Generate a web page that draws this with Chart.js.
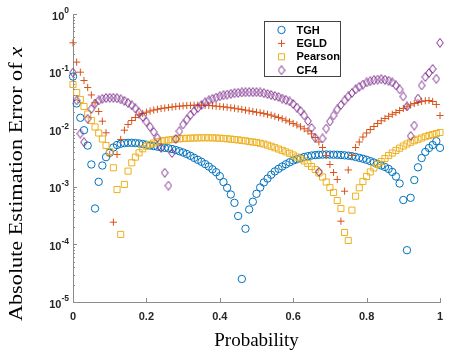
<!DOCTYPE html>
<html><head><meta charset="utf-8">
<script src="https://cdn.jsdelivr.net/npm/chart.js@4.4.1/dist/chart.umd.min.js"></script>
<style>html,body{margin:0;padding:0;background:#fff;}#wrap{width:474px;height:355px;}</style>
</head><body><div id="wrap"><canvas id="c" width="474" height="355"></canvas></div>
<script>
const probs = [0,0.01,0.02,0.03,0.04,0.05,0.06,0.07,0.08,0.09,
0.10,0.11,0.12,0.13,0.14,0.15,0.16,0.17,0.18,0.19,
0.20,0.21,0.22,0.23,0.24,0.25,0.26,0.27,0.28,0.29,
0.30,0.31,0.32,0.33,0.34,0.35,0.36,0.37,0.38,0.39,
0.40,0.41,0.42,0.43,0.44,0.45,0.46,0.47,0.48,0.49,
0.50,0.51,0.52,0.53,0.54,0.55,0.56,0.57,0.58,0.59,
0.60,0.61,0.62,0.63,0.64,0.65,0.66,0.67,0.68,0.69,
0.70,0.71,0.72,0.73,0.74,0.75,0.76,0.77,0.78,0.79,
0.80,0.81,0.82,0.83,0.84,0.85,0.86,0.87,0.88,0.89,
0.90,0.91,0.92,0.93,0.94,0.95,0.96,0.97,0.98,0.99,1.00];

const seriesNames = ['TGH','EGLD','Pearson','CF4'];

const tgh = [0.082,0.028,0.0158,0.0096,0.0052,0.00244,0.00042,0.00122,0.00234,0.00327,
0.00389,0.00481,0.00532,0.00558,0.00574,0.00581,0.00581,0.00575,0.00566,0.00553,
0.00538,0.00521,0.00509,0.00497,0.00485,0.00475,0.00466,0.00453,0.00435,0.00415,
0.00394,0.00371,0.00345,0.00318,0.00294,0.00272,0.00248,0.00225,0.00201,0.00179,
0.00153,0.00121,0.000961,0.000735,0.000527,0.000311,0.0000251,0.000187,0.000404,0.00055,
0.000755,0.000973,0.00119,0.00139,0.00162,0.00185,0.00205,0.00225,0.00246,0.00266,
0.00286,0.0030,0.00315,0.00329,0.0034,0.00349,0.00355,0.0036,0.00362,0.00364,
0.00362,0.00361,0.0036,0.00356,0.00352,0.00347,0.0034,0.0033,0.00318,0.00307,
0.00294,0.00279,0.00264,0.00249,0.00234,0.00221,0.00204,0.00181,0.00151,0.00114,
0.00059,0.0000793,0.000644,0.00131,0.00218,0.00316,0.00402,0.00472,0.00532,0.00619,0.00475];

const egld = [0.316,0.146,0.0977,0.070,0.053,0.0393,0.0287,0.0203,0.01377,0.00866,
0.00364,0.000243,0.00364,0.00662,0.00962,0.01207,0.01416,0.01596,0.01766,0.01874,
0.01972,0.0207,0.0215,0.0222,0.0229,0.0233,0.0238,0.0243,0.0248,0.0251,
0.0254,0.0257,0.0259,0.0261,0.0261,0.0261,0.0260,0.0258,0.0255,0.0251,
0.0248,0.0244,0.0240,0.0235,0.0231,0.0225,0.0220,0.0214,0.0208,0.0203,
0.0197,0.0193,0.01874,0.01815,0.0175,0.01675,0.01596,0.01517,0.01429,0.01344,
0.01256,0.01183,0.01101,0.01016,0.00931,0.00832,0.00718,0.0060,0.00481,0.00349,
0.00244,0.00177,0.00134,0.000253,0.000839,0.00196,0.00349,0.00481,0.0060,0.00732,
0.00859,0.00988,0.01114,0.01256,0.0140,0.01535,0.01675,0.01815,0.0195,0.0211,
0.0229,0.0245,0.0263,0.0279,0.0291,0.0303,0.0311,0.0315,0.0303,0.0269,0.0173];

const pearson = [0.0597,0.0434,0.0328,0.0248,0.01835,0.01416,0.01092,0.00859,0.00676,0.00521,
0.0041,0.00214,0.000897,0.000149,0.0011,0.00187,0.00261,0.00327,0.00389,0.00457,
0.00507,0.00542,0.00575,0.00604,0.00624,0.00637,0.00649,0.00662,0.00673,0.00681,
0.0069,0.00695,0.0070,0.00703,0.00706,0.0071,0.0071,0.0071,0.00706,0.00703,
0.00698,0.0069,0.00681,0.00673,0.00662,0.00652,0.00639,0.00627,0.00611,0.0060,
0.00588,0.00571,0.00553,0.0053,0.00505,0.00477,0.00453,0.00429,0.00404,0.00382,
0.00356,0.00329,0.00304,0.00281,0.00254,0.00225,0.0020,0.00174,0.00148,0.00121,
0.000973,0.000796,0.000578,0.00042,0.000161,0.000117,0.000393,0.000687,0.000961,0.00124,
0.00151,0.00181,0.00212,0.00244,0.00275,0.0031,0.00349,0.00386,0.00427,0.00468,
0.00511,0.00553,0.00593,0.00631,0.00668,0.00703,0.00741,0.00778,0.00809,0.00842,0.00877];

const cf4 = [0.0964,0.0315,0.00842,0.00594,0.01517,0.0224,0.0279,0.0315,0.0337,0.0348,
0.0351,0.0351,0.0344,0.033,0.0311,0.0287,0.026,0.0229,0.0195,0.0163,
0.01344,0.01101,0.00894,0.00703,0.00475,0.00175,0.00105,0.00386,0.00676,0.00923,
0.01207,0.01472,0.01766,0.0205,0.0233,0.0263,0.0291,0.0315,0.0337,0.0355,
0.0373,0.0388,0.040,0.0412,0.042,0.0429,0.0434,0.0437,0.0439,0.0439,
0.0439,0.0434,0.0422,0.0408,0.0394,0.0377,0.0362,0.0341,0.0324,0.0303,
0.0274,0.0238,0.0207,0.0173,0.01387,0.0105,0.0071,0.00182,0.0069,0.01028,
0.01361,0.0173,0.022,0.0263,0.0315,0.037,0.0425,0.0489,0.0545,0.0597,
0.0647,0.0681,0.0709,0.0729,0.0735,0.0721,0.0692,0.0647,0.0574,0.0489,
0.037,0.0248,0.00762,0.01159,0.0341,0.0574,0.0805,0.0946,0.111,0.075,0.316];

const xTicks = [0,0.2,0.4,0.6,0.8,1];
const xTickLabels = ['0','0.2','0.4','0.6','0.8','1'];
const yTicks = [1e-5,1e-4,1e-3,1e-2,1e-1,1];
const yTickExp = ['-5','-4','-3','-2','-1','0'];

const COLORS = ['#0072BD','#D95319','#EDB120','#7E2F8E'];
const AXIS = '#8c8c8c';
const TXT = '#262626';

function diamondImg(color){
  const c = document.createElement('canvas');
  c.width = 8; c.height = 10;
  const g = c.getContext('2d');
  g.strokeStyle = color; g.lineWidth = 1;
  g.beginPath();
  g.moveTo(4,0.6); g.lineTo(7.3,5); g.lineTo(4,9.4); g.lineTo(0.7,5); g.closePath();
  g.stroke();
  return c;
}
const diamond = diamondImg(COLORS[3]);

const styles = [
  {pointStyle:'circle', pointRadius:3.7},
  {pointStyle:'cross', pointRadius:3.6},
  {pointStyle:'rect', pointRadius:4.3},
  {pointStyle:diamond, pointRadius:4}
];
const seriesData = [tgh, egld, pearson, cf4];

const datasets = seriesData.map((vals, s) => ({
  label: seriesNames[s],
  data: probs.map((p, i) => ({x: p, y: vals[i]})),
  showLine: false,
  pointStyle: styles[s].pointStyle,
  pointRadius: styles[s].pointRadius,
  pointHoverRadius: styles[s].pointRadius,
  pointBorderWidth: 1,
  pointBorderColor: COLORS[s],
  pointBackgroundColor: 'rgba(0,0,0,0)',
  order: 4 - s,
  clip: false
}));

function drawMarker(ctx, s, x, y){
  ctx.save();
  ctx.strokeStyle = COLORS[s]; ctx.lineWidth = 1;
  const r = styles[s].pointRadius;
  ctx.beginPath();
  if (s === 0){ ctx.arc(x, y, r, 0, Math.PI*2); ctx.stroke(); }
  else if (s === 1){ ctx.moveTo(x-r,y); ctx.lineTo(x+r,y); ctx.moveTo(x,y-r); ctx.lineTo(x,y+r); ctx.stroke(); }
  else if (s === 2){ const h = Math.SQRT1_2*r; ctx.rect(x-h, y-h, 2*h, 2*h); ctx.stroke(); }
  else { ctx.drawImage(diamond, x - diamond.width/2, y - diamond.height/2); }
  ctx.restore();
}

const decor = {
  id: 'decor',
  afterDraw(chart){
    const {ctx, chartArea: a, scales: {x, y}} = chart;
    ctx.save();
    // inward tick marks
    ctx.strokeStyle = AXIS; ctx.lineWidth = 1;
    ctx.beginPath();
    xTicks.forEach(v => {
      const px = Math.round(x.getPixelForValue(v)) + 0.5;
      ctx.moveTo(px, a.bottom); ctx.lineTo(px, a.bottom - 4);
    });
    yTicks.forEach((v, i) => {
      const py = Math.round(y.getPixelForValue(v)) + 0.5;
      ctx.moveTo(a.left, py); ctx.lineTo(a.left + 4, py);
      if (i < yTicks.length - 1){
        for (let m = 2; m <= 9; m++){
          const q = Math.round(y.getPixelForValue(m * v)) + 0.5;
          ctx.moveTo(a.left, q); ctx.lineTo(a.left + 2, q);
        }
      }
    });
    ctx.stroke();

    // y tick labels 10^n
    ctx.fillStyle = TXT;
    ctx.textBaseline = 'middle';
    yTicks.forEach((v, i) => {
      const py = y.getPixelForValue(v);
      ctx.font = 'bold 8.5px "Liberation Sans", Arial, sans-serif';
      const ew = ctx.measureText(yTickExp[i]).width;
      const right = a.left - 4;
      ctx.textAlign = 'right';
      ctx.fillText(yTickExp[i], right, py - 3);
      ctx.font = 'bold 11px "Liberation Sans", Arial, sans-serif';
      ctx.fillText('10', right - ew, py + 2.5);
    });

    // axis titles
    ctx.fillStyle = '#000';
    ctx.textAlign = 'center';
    ctx.textBaseline = 'middle';
    ctx.font = '19px "Liberation Serif", "Times New Roman", serif';
    ctx.fillText('Probability', (a.left + a.right) / 2, 341);

    const t1 = 'Absolute Estimation Error of ';
    const t2 = 'x';
    ctx.save();
    ctx.translate(17, 184);
    ctx.rotate(-Math.PI / 2);
    ctx.scale(1.17, 1);
    ctx.font = '19px "Liberation Serif", "Times New Roman", serif';
    const w1 = ctx.measureText(t1).width;
    ctx.font = 'italic 19px "Liberation Serif", "Times New Roman", serif';
    const w2 = ctx.measureText(t2).width;
    const start = -(w1 + w2) / 2;
    ctx.textAlign = 'left';
    ctx.font = '19px "Liberation Serif", "Times New Roman", serif';
    ctx.fillText(t1, start, 0);
    ctx.font = 'italic 19px "Liberation Serif", "Times New Roman", serif';
    ctx.fillText(t2, start + w1, 0);
    ctx.restore();

    // legend
    const lx = 264.5, ly = 21.5, lw = 76, lh = 55;
    ctx.fillStyle = '#fff';
    ctx.fillRect(lx, ly, lw, lh);
    ctx.strokeStyle = '#444'; ctx.lineWidth = 1;
    ctx.strokeRect(lx, ly, lw, lh);
    ctx.font = 'bold 11px "Liberation Sans", Arial, sans-serif';
    ctx.textAlign = 'left';
    ctx.fillStyle = '#000';
    seriesNames.forEach((n, s) => {
      const ry = 30 + s * 13.4;
      drawMarker(ctx, s, 281.5, ry);
      ctx.fillStyle = '#000';
      ctx.fillText(n, 296.5, ry + 0.5);
    });
    ctx.restore();
  }
};

new Chart(document.getElementById('c'), {
  type: 'scatter',
  data: { datasets },
  options: {
    responsive: false,
    animation: false,
    devicePixelRatio: 1,
    layout: { padding: { left: 0, right: 34, top: 14, bottom: 0 } },
    plugins: { legend: { display: false }, tooltip: { enabled: false } },
    scales: {
      x: {
        type: 'linear', min: 0, max: 1,
        afterBuildTicks: s => { s.ticks = xTicks.map(v => ({value: v})); },
        afterFit: s => { s.height = 53; },
        grid: { display: false, drawTicks: false },
        border: { display: true, color: AXIS, width: 1 },
        ticks: {
          padding: 8,
          color: TXT,
          font: { family: '"Liberation Sans", Arial, sans-serif', size: 11, weight: 'bold' },
          callback: (v) => xTickLabels[xTicks.indexOf(Math.round(v * 10) / 10)]
        }
      },
      y: {
        type: 'logarithmic', min: 1e-5, max: 1,
        afterBuildTicks: s => { s.ticks = yTicks.map(v => ({value: v})); },
        afterFit: s => { s.width = 73; },
        grid: { display: false, drawTicks: false },
        border: { display: true, color: AXIS, width: 1 },
        ticks: { display: false }
      }
    }
  },
  plugins: [decor]
});
</script>
</body></html>
